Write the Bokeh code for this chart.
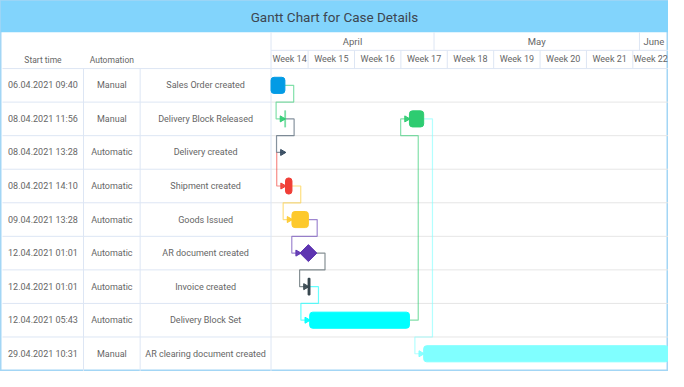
import numpy as np
from bokeh.plotting import figure
from bokeh.models import Range1d, ColumnDataSource
from bokeh.core.properties import value
from bokeh.embed import file_html
from bokeh.resources import INLINE

# ---------------- data ----------------
title_text = "Gantt Chart for Case Details"
column_headers = ["Start time", "Automation", ""]

start_times = ["06.04.2021 09:40", "08.04.2021 11:56", "08.04.2021 13:28",
               "08.04.2021 14:10", "09.04.2021 13:28", "12.04.2021 01:01",
               "12.04.2021 01:01", "12.04.2021 05:43", "29.04.2021 10:31"]
automation = ["Manual", "Manual", "Automatic", "Automatic", "Automatic",
              "Automatic", "Automatic", "Automatic", "Manual"]
activities = ["Sales Order created", "Delivery Block Released", "Delivery created",
              "Shipment created", "Goods Issued", "AR document created",
              "Invoice created", "Delivery Block Set", "AR clearing document created"]

bar_rows = [0, 1, 2, 3, 4, 5, 6, 7, 1, 8]
bar_starts = ["2021-04-06T09:40", "2021-04-08T11:56", "2021-04-08T13:28",
              "2021-04-08T14:10", "2021-04-09T13:28", "2021-04-12T01:01",
              "2021-04-12T01:01", "2021-04-12T05:43", "2021-04-27T07:00",
              "2021-04-29T10:31"]
bar_ends = ["2021-04-08T11:56", "2021-04-08T13:28", "2021-04-08T14:10",
            "2021-04-09T13:28", "2021-04-12T01:01", "2021-04-12T01:01",
            "2021-04-12T05:43", "2021-04-27T07:00", "2021-04-29T10:31",
            "2021-06-07T00:00"]
bar_colors = ["#039be5", "#2ecc71", "#34495e", "#f03e36", "#fdc92c",
              "#5e35b1", "#37474f", "#00ffff", "#2ecc71", "#80ffff"]
bar_kinds = ["task", "thin", "hidden", "task", "task", "milestone",
             "thin", "task", "task", "task"]
links = [(0, 1), (1, 2), (2, 3), (3, 4), (4, 5), (5, 6), (6, 7), (7, 8), (8, 9)]

month_labels = ["April", "May", "June"]
month_starts = ["2021-04-01", "2021-05-01", "2021-06-01"]
month_ends = ["2021-05-01", "2021-06-01", "2021-07-01"]
week_labels = ["Week 14", "Week 15", "Week 16", "Week 17", "Week 18",
               "Week 19", "Week 20", "Week 21", "Week 22"]
week_starts = ["2021-04-05", "2021-04-12", "2021-04-19", "2021-04-26", "2021-05-03",
               "2021-05-10", "2021-05-17", "2021-05-24", "2021-05-31"]

view_start = "2021-04-06T09:40"
view_end = "2021-06-05T09:10"

# ---------------- layout (units of the reference picture) ----------------
W, H = 684, 387
FIG_W, FIG_H = 668, 371
TITLE_H = 33
HEAD_MID = 52
HEAD_BOT = 71
ROW_H = 35
COL_EDGES = [2, 85, 143, 277]
GANTT_LEFT = 277

FONT = value("Roboto")
TXT = "#666666"
GRID_BLUE = "#dde6f4"
GRID_GREY = "#e6e6e6"


def ms(s):
    return np.datetime64(s).astype("datetime64[ms]").astype(np.int64).astype(float)


t0, t1 = ms(view_start), ms(view_end)
ms_per_unit = (t1 - t0) / (W - GANTT_LEFT)
time_range = Range1d(start=t0 - GANTT_LEFT * ms_per_unit, end=t1)
rows_range = Range1d(start=(H - HEAD_BOT) / ROW_H - 0.5, end=-HEAD_BOT / ROW_H - 0.5)

p = figure(width=FIG_W, height=FIG_H, x_range=Range1d(0, W), y_range=Range1d(H, 0),
           output_backend="svg", toolbar_location=None, min_border=0,
           x_axis_type=None, y_axis_type=None)
p.extra_x_ranges = {"time": time_range}
p.extra_y_ranges = {"rows": rows_range}
p.xgrid.visible = False
p.ygrid.visible = False
p.background_fill_color = "white"
p.border_fill_color = "white"
p.outline_line_color = "#a3d6f5"
p.outline_line_width = 2

# title band
p.quad(left=0, right=W, top=0, bottom=TITLE_H, fill_color="#82d4fc", line_color=None)
p.text(x=[W / 2], y=[TITLE_H / 2 + 0.5], text=[title_text], text_font=FONT,
       text_font_size="13.5px", text_color="#3d4650", text_align="center",
       text_baseline="middle")

n_rows = len(activities)
# grid: row lines
row_lines_y = [HEAD_BOT + ROW_H * k for k in range(n_rows)]
p.segment(x0=[COL_EDGES[0]] * n_rows, x1=[GANTT_LEFT] * n_rows, y0=row_lines_y,
          y1=row_lines_y, line_color=GRID_BLUE, line_width=1)
p.segment(x0=[GANTT_LEFT] * (n_rows - 1), x1=[W] * (n_rows - 1), y0=row_lines_y[1:],
          y1=row_lines_y[1:], line_color=GRID_GREY, line_width=1)
p.segment(x0=[GANTT_LEFT, GANTT_LEFT], x1=[W, W], y0=[HEAD_MID, HEAD_BOT],
          y1=[HEAD_MID, HEAD_BOT], line_color=GRID_BLUE, line_width=1)
# table column lines
p.segment(x0=COL_EDGES[1:3], x1=COL_EDGES[1:3], y0=[HEAD_BOT] * 2, y1=[H] * 2,
          line_color=GRID_BLUE, line_width=1)
p.segment(x0=[GANTT_LEFT], x1=[GANTT_LEFT], y0=[TITLE_H], y1=[H],
          line_color=GRID_BLUE, line_width=1)

# month / week separators and labels
ms_m0 = np.array([ms(s) for s in month_starts])
ms_m1 = np.array([ms(s) for s in month_ends])
m_sep = [m for m in ms_m0 if t0 < m < t1]
p.segment(x0=m_sep, x1=m_sep, y0=[TITLE_H] * len(m_sep), y1=[HEAD_MID] * len(m_sep),
          line_color=GRID_BLUE, line_width=1, x_range_name="time")
m_mid = (np.clip(ms_m0, t0, t1) + np.clip(ms_m1, t0, t1)) / 2
p.text(x=m_mid, y=[(TITLE_H + HEAD_MID) / 2] * len(m_mid), text=month_labels,
       x_range_name="time", text_font=FONT, text_font_size="9.5px", text_color=TXT,
       text_align="center", text_baseline="middle")

ms_w0 = np.array([ms(s) for s in week_starts])
ms_w1 = ms_w0 + 7 * 86400000.0
w_sep = [w for w in ms_w0 if t0 < w < t1]
p.segment(x0=w_sep, x1=w_sep, y0=[HEAD_MID] * len(w_sep), y1=[HEAD_BOT] * len(w_sep),
          line_color=GRID_BLUE, line_width=1, x_range_name="time")
w_mid = (np.clip(ms_w0, t0, t1) + np.clip(ms_w1, t0, t1)) / 2
p.text(x=w_mid, y=[(HEAD_MID + HEAD_BOT) / 2] * len(w_mid), text=week_labels,
       x_range_name="time", text_font=FONT, text_font_size="9px", text_color=TXT,
       text_align="center", text_baseline="middle")

# table header and cells
col_centers = [(COL_EDGES[i] + COL_EDGES[i + 1]) / 2 for i in range(3)]
p.text(x=col_centers, y=[(HEAD_MID + HEAD_BOT) / 2 + 1] * 3, text=column_headers,
       text_font=FONT, text_font_size="8.5px", text_color=TXT, text_align="center",
       text_baseline="middle")
rows_idx = list(range(n_rows))
for c, col in enumerate([start_times, automation, activities]):
    p.text(x=[col_centers[c]] * n_rows, y=rows_idx, y_range_name="rows", text=col,
           text_font=FONT, text_font_size="9px", text_color=TXT,
           text_align="center", text_baseline="middle")

# ---------------- connectors ----------------
OFF = 9 * ms_per_unit
MS_HALF = 8 * ms_per_unit
b0 = np.array([ms(s) for s in bar_starts])
b1 = np.array([ms(s) for s in bar_ends])


def out_x(i):
    if bar_kinds[i] == "milestone":
        return b0[i] + MS_HALF
    return b1[i]


def in_x(i):
    if bar_kinds[i] == "milestone":
        return b0[i] - MS_HALF
    return b0[i]


xs, ys, lc, ax, ay = [], [], [], [], []
for s, t in links:
    ys_, yt = bar_rows[s], bar_rows[t]
    xt = in_x(t)
    if bar_kinds[s] == "hidden":
        px = [xt - OFF, xt - OFF, xt]
        py = [ys_, yt, yt]
    else:
        xs_ = out_x(s)
        yb = yt - 0.5 if yt > ys_ else yt + 0.5
        px = [xs_, xs_ + OFF, xs_ + OFF, xt - OFF, xt - OFF, xt]
        py = [ys_, ys_, yb, yb, yt, yt]
    xs.append(px)
    ys.append(py)
    lc.append(bar_colors[t])
    ax.append(xt - 3 * ms_per_unit)
    ay.append(yt)

p.multi_line(xs=xs, ys=ys, line_color=lc, line_alpha=0.6, line_width=1.2,
             x_range_name="time", y_range_name="rows")
p.scatter(x=ax, y=ay, marker="triangle", size=6, angle=-np.pi / 2, fill_color=lc,
          line_color=lc, fill_alpha=0.9, x_range_name="time", y_range_name="rows")

# ---------------- bars ----------------
idx_task = [i for i, k in enumerate(bar_kinds) if k == "task"]
src = ColumnDataSource(dict(y=[bar_rows[i] for i in idx_task], left=b0[idx_task],
                            right=b1[idx_task], color=[bar_colors[i] for i in idx_task]))
p.hbar(y="y", left="left", right="right", height=0.48, fill_color="color",
       line_color="color", line_width=1, border_radius=3, source=src,
       x_range_name="time", y_range_name="rows")

idx_thin = [i for i, k in enumerate(bar_kinds) if k == "thin"]
p.hbar(y=[bar_rows[i] for i in idx_thin], left=b0[idx_thin], right=b1[idx_thin],
       height=0.48, fill_color=[bar_colors[i] for i in idx_thin],
       line_color=[bar_colors[i] for i in idx_thin], line_width=1.6,
       line_alpha=[0.45, 1.0], x_range_name="time", y_range_name="rows")

idx_ms = [i for i, k in enumerate(bar_kinds) if k == "milestone"]
p.scatter(x=b0[idx_ms], y=[bar_rows[i] for i in idx_ms], marker="square",
          angle=np.pi / 4, size=12, fill_color=[bar_colors[i] for i in idx_ms],
          line_color=[bar_colors[i] for i in idx_ms], x_range_name="time",
          y_range_name="rows")

open("out.html", "w").write(file_html(p, INLINE))
